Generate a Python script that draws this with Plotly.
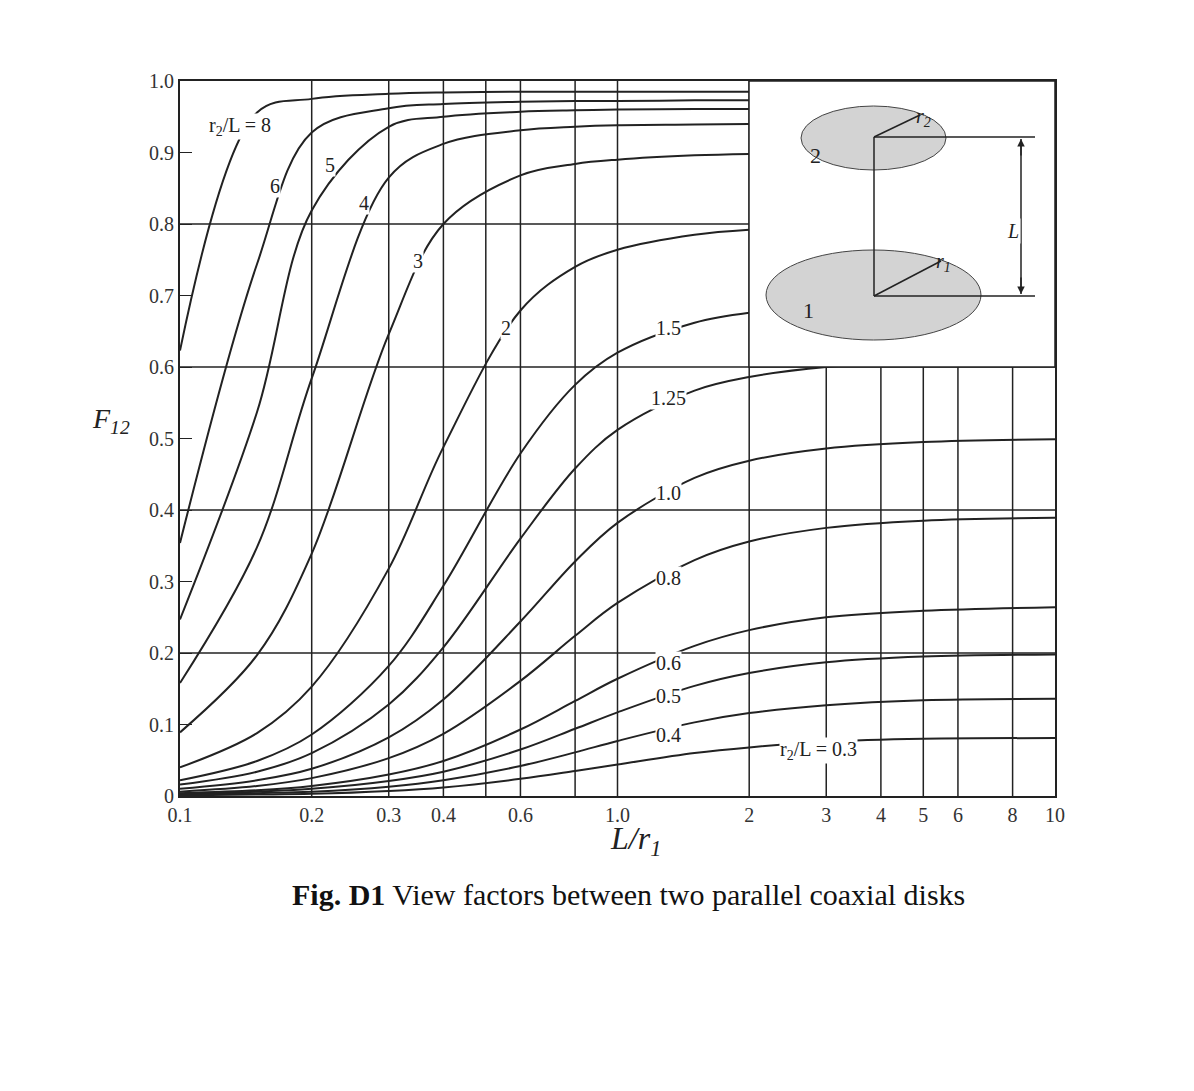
import numpy as np
import plotly.graph_objects as go

# ── Data ─────────────────────────────────────────────────────────────────────
X_LEFT = [0.1, 0.15, 0.2, 0.3, 0.4, 0.6, 0.8, 1.0, 1.5, 2.0]
X_FULL = [0.1, 0.15, 0.2, 0.3, 0.4, 0.6, 0.8, 1.0, 1.5, 2.0, 3.0, 5.0, 10.0]

f_8    = [0.623, 0.956, 0.975, 0.982, 0.984, 0.985, 0.985, 0.985, 0.985, 0.985]
f_6    = [0.354, 0.744, 0.928, 0.962, 0.968, 0.971, 0.972, 0.972, 0.973, 0.973]
f_5    = [0.247, 0.537, 0.819, 0.936, 0.950, 0.957, 0.959, 0.960, 0.961, 0.961]
f_4    = [0.158, 0.348, 0.584, 0.865, 0.912, 0.931, 0.936, 0.938, 0.939, 0.940]
f_3    = [0.089, 0.197, 0.339, 0.646, 0.800, 0.868, 0.884, 0.890, 0.896, 0.898]
f_2    = [0.040, 0.088, 0.153, 0.318, 0.488, 0.679, 0.740, 0.764, 0.785, 0.792]
f_1p5  = [0.022, 0.049, 0.086, 0.182, 0.294, 0.479, 0.575, 0.620, 0.662, 0.676]
f_1p25 = [0.016, 0.034, 0.060, 0.128, 0.208, 0.360, 0.458, 0.512, 0.567, 0.586, 0.600, 0.607, 0.609]
f_1p0  = [0.010, 0.022, 0.038, 0.082, 0.135, 0.244, 0.328, 0.382, 0.445, 0.469, 0.486, 0.495, 0.499]
f_0p8  = [0.006, 0.014, 0.025, 0.053, 0.087, 0.161, 0.224, 0.270, 0.330, 0.356, 0.375, 0.385, 0.389]
f_0p6  = [0.004, 0.008, 0.014, 0.030, 0.049, 0.093, 0.133, 0.164, 0.210, 0.232, 0.250, 0.259, 0.264]
f_0p5  = [0.003, 0.006, 0.010, 0.021, 0.034, 0.065, 0.094, 0.117, 0.154, 0.172, 0.187, 0.195, 0.198]
f_0p4  = [0.002, 0.004, 0.006, 0.013, 0.022, 0.042, 0.061, 0.077, 0.103, 0.116, 0.127, 0.134, 0.136]
f_0p3  = [0.001, 0.002, 0.003, 0.007, 0.012, 0.024, 0.035, 0.044, 0.060, 0.068, 0.076, 0.080, 0.081]

curves = [(X_LEFT, f_8), (X_LEFT, f_6), (X_LEFT, f_5), (X_LEFT, f_4), (X_LEFT, f_3),
          (X_LEFT, f_2), (X_LEFT, f_1p5), (X_FULL, f_1p25), (X_FULL, f_1p0),
          (X_FULL, f_0p8), (X_FULL, f_0p6), (X_FULL, f_0p5), (X_FULL, f_0p4),
          (X_FULL, f_0p3)]

# curve labels: text, x, y
labels = [("r<sub>2</sub>/L = 8", 0.137, 0.937), ("6", 0.165, 0.853), ("5", 0.22, 0.882),
          ("4", 0.264, 0.829), ("3", 0.35, 0.748), ("2", 0.556, 0.655),
          ("1.5", 1.31, 0.655), ("1.25", 1.31, 0.557), ("1.0", 1.31, 0.424),
          ("0.8", 1.31, 0.305), ("0.6", 1.31, 0.186), ("0.5", 1.31, 0.14),
          ("0.4", 1.31, 0.085), ("r<sub>2</sub>/L = 0.3", 2.88, 0.064)]

x_ticks = [0.1, 0.2, 0.3, 0.4, 0.6, 1.0, 2, 3, 4, 5, 6, 8, 10]
x_ticktext = ["0.1", "0.2", "0.3", "0.4", "0.6", "1.0", "2", "3", "4", "5", "6", "8", "10"]
y_ticks = [0, 0.1, 0.2, 0.3, 0.4, 0.5, 0.6, 0.7, 0.8, 0.9, 1.0]
y_ticktext = ["0", "0.1", "0.2", "0.3", "0.4", "0.5", "0.6", "0.7", "0.8", "0.9", "1.0"]
x_grid = [0.2, 0.3, 0.4, 0.5, 0.6, 0.8, 1.0, 2, 3, 4, 5, 6, 8]
y_grid = [0.2, 0.4, 0.6, 0.8]

SERIF = "Liberation Serif, Times New Roman, serif"
W, H = 1194, 1091
L_PX, R_PX, T_PX, B_PX = 172, 1047, 73, 788

def px(x): return (x - L_PX) / (R_PX - L_PX)
def py(y): return (B_PX - y) / (B_PX - T_PX)

fig = go.Figure()
for xs, ys in curves:
    fig.add_trace(go.Scatter(x=xs, y=ys, mode="lines", line=dict(color="#222", width=2, shape="spline"),
                             showlegend=False, hoverinfo="skip"))

shapes = []
for g in x_grid:
    shapes.append(dict(type="line", xref="x", yref="paper", x0=g, x1=g, y0=0, y1=1,
                       line=dict(color="#222", width=1.5), layer="below"))
for g in y_grid:
    shapes.append(dict(type="line", xref="paper", yref="y", x0=0, x1=1, y0=g, y1=g,
                       line=dict(color="#222", width=1.5), layer="below"))

# inset with the two disks
shapes.append(dict(type="rect", xref="paper", yref="paper", x0=px(741), x1=1, y0=py(359), y1=1,
                   fillcolor="white", line=dict(color="#222", width=1.5), layer="above"))
shapes.append(dict(type="circle", xref="paper", yref="paper", x0=px(793), x1=px(938), y0=py(162), y1=py(98),
                   fillcolor="#d3d3d3", line=dict(color="#444", width=1), layer="above"))
shapes.append(dict(type="circle", xref="paper", yref="paper", x0=px(758), x1=px(973), y0=py(332), y1=py(242),
                   fillcolor="#d3d3d3", line=dict(color="#444", width=1), layer="above"))
for (a, b, c, d) in [(866, 129, 866, 288), (866, 129, 1027, 129), (866, 288, 1027, 288),
                     (866, 129, 912, 107), (866, 288, 933, 253), (1013, 131, 1013, 286)]:
    shapes.append(dict(type="line", xref="paper", yref="paper", x0=px(a), y0=py(b), x1=px(c), y1=py(d),
                       line=dict(color="#222", width=1.5), layer="above"))

ann = []
for t, x, y in labels:
    ann.append(dict(text=t, x=np.log10(x), y=y, xref="x", yref="y", showarrow=False,
                    bgcolor="white", font=dict(family=SERIF, size=20, color="#222"), borderpad=0))
for t, a, b, s in [("r<sub>2</sub>", 925, 95, 20), ("r<sub>1</sub>", 945, 240, 20), ("2", 815, 133, 22),
                   ("1", 808, 288, 22)]:
    ann.append(dict(text=f"<i>{t}</i>" if t.startswith("r") else t, x=px(a), y=py(b), xref="paper",
                    yref="paper", showarrow=False, font=dict(family=SERIF, size=s, color="#222")))
ann.append(dict(text="<i>L</i>", x=px(1013), y=py(210), xref="paper", yref="paper", showarrow=False,
                bgcolor="white", font=dict(family=SERIF, size=20, color="#222")))
# arrowheads of L dimension
for tip, off in [(131, 18), (286, -18)]:
    ann.append(dict(x=px(1013), y=py(tip), ax=0, ay=off, xref="paper", yref="paper",
                    text="", showarrow=True, arrowhead=2,
                    arrowsize=1, arrowwidth=1.5, arrowcolor="#222"))
ann.append(dict(text="<i>F<sub>12</sub></i>", x=px(82), y=py(412), xref="paper", yref="paper",
                showarrow=False, font=dict(family=SERIF, size=28, color="#222")))
ann.append(dict(text="<i>L/r<sub>1</sub></i>", x=px(627), y=py(855), xref="paper", yref="paper",
                showarrow=False, font=dict(family=SERIF, size=32, color="#222")))
ann.append(dict(text="<b>Fig. D1</b> View factors between two parallel coaxial disks", x=px(620),
                y=py(905), xref="paper", yref="paper", showarrow=False,
                font=dict(family=SERIF, size=30, color="#111")))

fig.update_layout(
    width=W, height=H, plot_bgcolor="white", paper_bgcolor="white",
    margin=dict(l=L_PX, r=W - R_PX, t=T_PX, b=H - B_PX, pad=0),
    shapes=shapes, annotations=ann,
    font=dict(family=SERIF, size=20, color="#333"),
    xaxis=dict(type="log", range=[-1, 1], tickvals=x_ticks, ticktext=x_ticktext, showgrid=False,
               showline=True, linecolor="#222", linewidth=2, mirror=True, ticks="", zeroline=False),
    yaxis=dict(range=[0, 1], tickvals=y_ticks, ticktext=y_ticktext, showgrid=False,
               showline=True, linecolor="#222", linewidth=2, mirror=True, ticks="inside",
               ticklen=12, tickcolor="#222", zeroline=False),
)
fig.write_html("out.html")
